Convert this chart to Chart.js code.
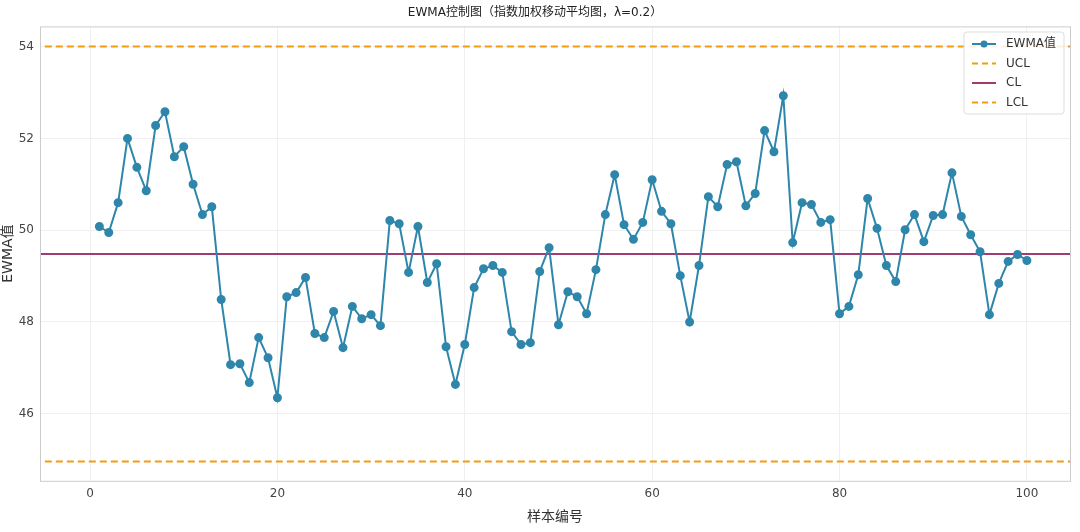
<!DOCTYPE html>
<html>
<head>
<meta charset="utf-8">
<script src="https://cdn.jsdelivr.net/npm/chart.js@4"></script>
<style>
  body { margin: 0; background: #fff; }
  #wrap { width: 1080px; height: 532px; }
</style>
</head>
<body>
<div id="wrap"><canvas id="c"></canvas></div>
<script>
// EWMA values, samples 1..100
var samples = [];
for (var i = 1; i <= 100; i++) samples.push(i);
var ewma = [
  50.08, 49.95, 50.6, 52.0, 51.37, 50.86, 52.28, 52.58, 51.6, 51.82,
  51.0, 50.34, 50.51, 48.49, 47.07, 47.09, 46.68, 47.66, 47.22, 46.35,
  48.55, 48.64, 48.97, 47.75, 47.66, 48.23, 47.44, 48.34, 48.07, 48.16,
  47.92, 50.21, 50.14, 49.08, 50.08, 48.86, 49.27, 47.46, 46.64, 47.51,
  48.75, 49.16, 49.23, 49.08, 47.79, 47.51, 47.55, 49.1, 49.62, 47.94,
  48.66, 48.55, 48.18, 49.14, 50.34, 51.21, 50.12, 49.8, 50.17, 51.1,
  50.41, 50.14, 49.01, 48.0, 49.23, 50.73, 50.51, 51.43, 51.49, 50.53,
  50.8, 52.17, 51.71, 52.93, 49.73, 50.6, 50.56, 50.17, 50.23, 48.18,
  48.34, 49.03, 50.69, 50.04, 49.23, 48.88, 50.01, 50.34, 49.75, 50.32,
  50.34, 51.25, 50.3, 49.9, 49.53, 48.16, 48.84, 49.32, 49.47, 49.34
];
var ucl = 54.0;
var cl = 49.48;
var lcl = 44.96;
var yTicks = [46, 48, 50, 52, 54];
var xTicks = [0, 20, 40, 60, 80, 100];

var font = "'DejaVu Sans', 'Noto Sans CJK SC', sans-serif";
var pts = ewma.map(function (v, i) { return { x: samples[i], y: v }; });
function hline(v) { return [{ x: -6, y: v }, { x: 106, y: v }]; }

// legend drawn inside the plot, top right
var boxLegend = {
  id: 'boxLegend',
  afterDraw: function (chart) {
    var ctx = chart.ctx;
    var items = [
      { t: 'EWMA值', c: '#2e86ab', dash: [], dot: true },
      { t: 'UCL', c: '#f39c12', dash: [6, 4] },
      { t: 'CL', c: '#a23b72', dash: [] },
      { t: 'LCL', c: '#f39c12', dash: [6, 4] }
    ];
    var x0 = 964, y0 = 32, w = 100, h = 82;
    ctx.save();
    ctx.fillStyle = 'rgba(255,255,255,0.85)';
    ctx.strokeStyle = '#dddddd';
    ctx.lineWidth = 1;
    ctx.beginPath();
    ctx.roundRect(x0, y0, w, h, 3);
    ctx.fill(); ctx.stroke();
    ctx.font = '12px ' + font;
    ctx.textBaseline = 'middle';
    items.forEach(function (it, k) {
      var y = y0 + 12 + k * 19.5;
      ctx.strokeStyle = it.c; ctx.lineWidth = 2;
      ctx.setLineDash(it.dash);
      ctx.beginPath(); ctx.moveTo(x0 + 8, y); ctx.lineTo(x0 + 32, y); ctx.stroke();
      ctx.setLineDash([]);
      if (it.dot) {
        ctx.fillStyle = it.c;
        ctx.beginPath(); ctx.arc(x0 + 20, y, 3.5, 0, Math.PI * 2); ctx.fill();
      }
      ctx.fillStyle = '#333';
      ctx.fillText(it.t, x0 + 42, y);
    });
    ctx.restore();
  }
};

// border around plot area
var frame = {
  id: 'frame',
  afterDraw: function (chart) {
    var a = chart.chartArea, ctx = chart.ctx;
    ctx.save();
    ctx.strokeStyle = '#cccccc'; ctx.lineWidth = 1;
    ctx.strokeRect(a.left + 0.5, a.top + 0.5, a.right - a.left, a.bottom - a.top);
    ctx.restore();
  }
};

new Chart(document.getElementById('c'), {
  type: 'line',
  data: {
    datasets: [{
      label: 'EWMA值',
      data: pts,
      borderColor: '#2e86ab',
      backgroundColor: '#2e86ab',
      borderWidth: 2,
      pointRadius: 3.5,
      pointHoverRadius: 3.5,
      tension: 0,
      order: 0
    }, {
      label: 'UCL', data: hline(ucl), borderColor: '#f39c12', borderDash: [7, 4],
      borderWidth: 2, pointRadius: 0, order: 1
    }, {
      label: 'CL', data: hline(cl), borderColor: '#a23b72',
      borderWidth: 2, pointRadius: 0, order: 1
    }, {
      label: 'LCL', data: hline(lcl), borderColor: '#f39c12', borderDash: [7, 4],
      borderWidth: 2, pointRadius: 0, order: 1
    }]
  },
  options: {
    responsive: true,
    maintainAspectRatio: false,
    animation: false,
    layout: { padding: { top: 0, right: 10, left: 0, bottom: 2 } },
    plugins: {
      legend: { display: false },
      tooltip: { enabled: false },
      title: {
        display: true,
        text: 'EWMA控制图（指数加权移动平均图，λ=0.2）',
        color: '#222',
        font: { family: font, size: 12, weight: 'normal' },
        padding: { top: 6, bottom: 6 }
      }
    },
    scales: {
      x: {
        type: 'linear', min: -5.34, max: 104.6,
        afterBuildTicks: function (s) { s.ticks = xTicks.map(function (v) { return { value: v }; }); },
        grid: { color: '#f0f0f0', drawTicks: false },
        border: { display: false },
        ticks: { color: '#444', font: { family: font, size: 12 }, padding: 6 },
        title: { display: true, text: '样本编号', color: '#333', font: { family: font, size: 14 }, padding: { top: 2 } }
      },
      y: {
        min: 44.54, max: 54.44,
        afterBuildTicks: function (s) { s.ticks = yTicks.map(function (v) { return { value: v }; }); },
        afterFit: function (s) { s.width = 40; },
        grid: { color: '#f0f0f0', drawTicks: false },
        border: { display: false },
        ticks: { color: '#444', font: { family: font, size: 12 }, padding: 6 },
        title: { display: true, text: 'EWMA值', color: '#333', font: { family: font, size: 14 }, padding: 0 }
      }
    }
  },
  plugins: [frame, boxLegend]
});
</script>
</body>
</html>
